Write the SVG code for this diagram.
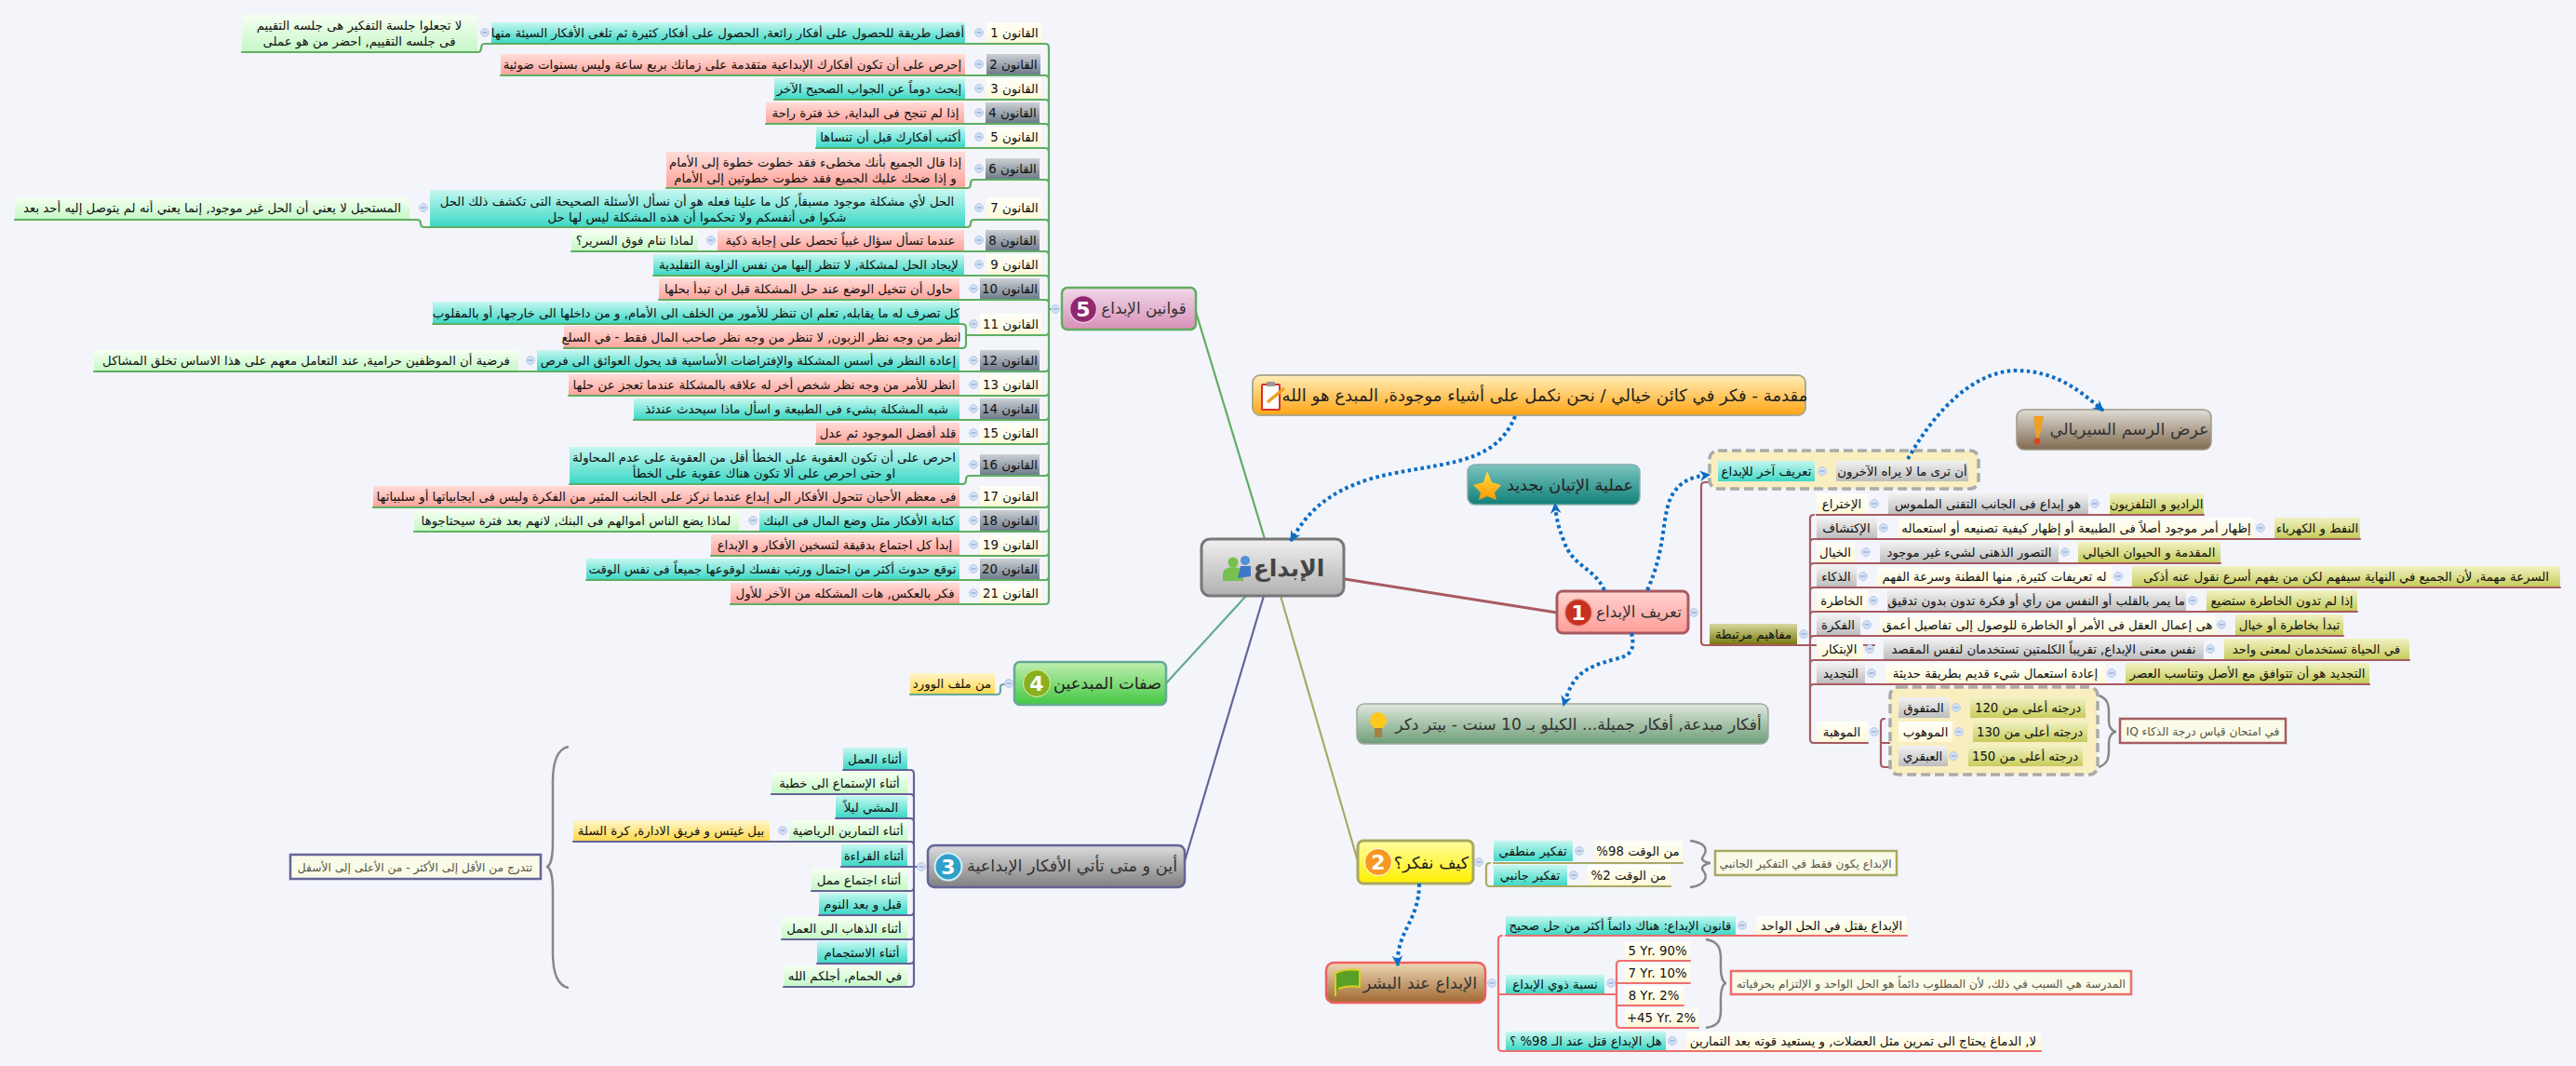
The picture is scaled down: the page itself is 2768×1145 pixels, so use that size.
<svg xmlns="http://www.w3.org/2000/svg" width="2768" height="1145" viewBox="0 0 2768 1145">
<style>
text{font-family:"DejaVu Sans","Noto Sans",sans-serif;font-size:13.3px;fill:#111;direction:rtl;text-anchor:middle}
.ltr{direction:ltr}
.t2{font-size:17.7px;fill:#333}
.t3{font-size:17.7px;fill:#222}
.nt{font-size:12.2px;fill:#554}
.num{font-size:22px;font-weight:bold;fill:#fff;direction:ltr}
.cy{fill:url(#gCy)}.rd{fill:url(#gRd)}.cr{fill:url(#gCr)}.bl{fill:url(#gBl)}.gn{fill:url(#gGn)}.ol{fill:url(#gOl)}.gy{fill:url(#gGy)}.ye{fill:url(#gYe)}
.ln{fill:none;stroke-width:2.2;stroke-linecap:round}
.g{stroke:#5fae62}.m{stroke:#a85a62}.o{stroke:#a9a965}.p{stroke:#646498}.r{stroke:#ee6e6e}.tl{stroke:#66a898}
.dot{fill:none;stroke:#0b6cc4;stroke-width:4;stroke-dasharray:3.5 3.5}
.br{fill:none;stroke:#888;stroke-width:2.5}
.dash{fill:#f8eec0;stroke:#aaa;stroke-width:3.5;stroke-dasharray:10 5}
.note{fill:#fafae8;stroke-width:2.5}
</style>
<defs>
<linearGradient id="gCy" x2="0" y2="1"><stop offset="0" stop-color="#c6f7f0"/><stop offset="1" stop-color="#3ed8c6"/></linearGradient>
<linearGradient id="gRd" x2="0" y2="1"><stop offset="0" stop-color="#ffdcd8"/><stop offset="1" stop-color="#ffa49c"/></linearGradient>
<linearGradient id="gCr" x2="0" y2="1"><stop offset="0" stop-color="#fffffa"/><stop offset="1" stop-color="#fff8d8"/></linearGradient>
<linearGradient id="gBl" x2="0" y2="1"><stop offset="0" stop-color="#ccd0d4"/><stop offset="1" stop-color="#6e7c8a"/></linearGradient>
<linearGradient id="gGn" x2="0" y2="1"><stop offset="0" stop-color="#f6fff2"/><stop offset="1" stop-color="#c6f8c6"/></linearGradient>
<linearGradient id="gOl" x2="0" y2="1"><stop offset="0" stop-color="#f2f2c4"/><stop offset="1" stop-color="#c6cc5c"/></linearGradient>
<linearGradient id="gGy" x2="0" y2="1"><stop offset="0" stop-color="#f2f2f2"/><stop offset="1" stop-color="#bdbdbd"/></linearGradient>
<linearGradient id="gYe" x2="0" y2="1"><stop offset="0" stop-color="#fff6c8"/><stop offset="1" stop-color="#ffd850"/></linearGradient>
<linearGradient id="gDk" x2="0" y2="1"><stop offset="0" stop-color="#d8d8a0"/><stop offset="1" stop-color="#7a7a10"/></linearGradient>
<linearGradient id="nC" x2="0" y2="1"><stop offset="0" stop-color="#f0f0f0"/><stop offset="1" stop-color="#b0b0b0"/></linearGradient>
<linearGradient id="nO" x2="0" y2="1"><stop offset="0" stop-color="#ffeeb8"/><stop offset="1" stop-color="#ffa414"/></linearGradient>
<linearGradient id="nT" x2="0" y2="1"><stop offset="0" stop-color="#7cc4c0"/><stop offset="1" stop-color="#108078"/></linearGradient>
<linearGradient id="nP" x2="0" y2="1"><stop offset="0" stop-color="#ffd4d0"/><stop offset="1" stop-color="#ff9c98"/></linearGradient>
<linearGradient id="nB" x2="0" y2="1"><stop offset="0" stop-color="#e0dcd6"/><stop offset="1" stop-color="#806a50"/></linearGradient>
<linearGradient id="nG" x2="0" y2="1"><stop offset="0" stop-color="#e0e8dc"/><stop offset="1" stop-color="#6e9e78"/></linearGradient>
<linearGradient id="nY" x2="0" y2="1"><stop offset="0" stop-color="#ffffa0"/><stop offset="1" stop-color="#ffee00"/></linearGradient>
<linearGradient id="nH" x2="0" y2="1"><stop offset="0" stop-color="#eed8b8"/><stop offset="1" stop-color="#a06830"/></linearGradient>
<linearGradient id="nL" x2="0" y2="1"><stop offset="0" stop-color="#c0eeb0"/><stop offset="1" stop-color="#44c844"/></linearGradient>
<linearGradient id="nV" x2="0" y2="1"><stop offset="0" stop-color="#f0d8e8"/><stop offset="1" stop-color="#d890b8"/></linearGradient>
<linearGradient id="nD" x2="0" y2="1"><stop offset="0" stop-color="#dcdcdc"/><stop offset="1" stop-color="#808080"/></linearGradient>
<linearGradient id="star" x2="0" y2="1"><stop offset="0" stop-color="#ffe040"/><stop offset="1" stop-color="#ff9800"/></linearGradient>
<marker id="arr" viewBox="0 0 12 12" refX="10" refY="6" markerWidth="14" markerHeight="14" markerUnits="userSpaceOnUse" orient="auto"><path d="M1 1L11 6L1 11L4 6Z" fill="#0b6cc4"/></marker>
<g id="e"><circle r="4.4" fill="#d4e0f4" stroke="#b4c8e8"/><path d="M-2.4 0H2.4" stroke="#8098c8"/></g>
</defs>
<rect width="2768" height="1145" fill="#f3f5fa"/>

<g id="connectors">
<path class="ln m" style="stroke-width:3" d="M1445 622L1673 658"/>
<path class="ln g" d="M1285 335L1359 579"/>
<path class="ln tl" d="M1253 734L1339 640"/>
<path class="ln p" d="M1273 925L1358 640"/>
<path class="ln o" d="M1376 640L1459 925"/>

<path class="ln g" d="M528 47H1123Q1127 47 1127 51V645Q1127 649 1123 649H785M260 56H513Q517 56 517 52Q517 47 521 47H528M538 81H1123Q1127 81 1127 85M832 107H1123Q1127 107 1127 111M823 133H1123Q1127 133 1127 137M877 159H1123Q1127 159 1127 163M716 202H1039Q1043 202 1043 198V197Q1043 193 1047 193H1123Q1127 193 1127 197M16 236H448Q452 236 452 240Q452 244 456 244H1039Q1043 244 1043 240Q1043 236 1047 236H1123Q1127 236 1127 240M614 270H1123Q1127 270 1127 274M702 296H1123Q1127 296 1127 300M708 322H1123Q1127 322 1127 326M1127 332H1130M465 348H1034Q1038 348 1038 352V370Q1038 374 1034 374H606M1038 360H1123Q1127 360 1127 356M101 399H1123Q1127 399 1127 395M611 425H1123Q1127 425 1127 421M681 451H1123Q1127 451 1127 447M877 477H1123Q1127 477 1127 473M612 520H1034Q1038 520 1038 516V515Q1038 511 1042 511H1123Q1127 511 1127 507M401 545H1123Q1127 545 1127 541M445 571H1123Q1127 571 1127 567M764 597H1123Q1127 597 1127 593M630 623H1123Q1127 623 1127 619"/>

<path class="ln tl" d="M978 746H1071Q1075 746 1075 742V738Q1075 735 1079 735"/>

<path class="ln p" d="M906 827H978Q982 827 982 831V1056Q982 1060 978 1060H842M829 853H978Q982 853 982 857M898 879H978Q982 879 982 883M616 904H978Q982 904 982 908M904 931H986M872 957H978Q982 957 982 953M880 983H978Q982 983 982 979M840 1009H978Q982 1009 982 1005M878 1035H978Q982 1035 982 1031"/>

<path class="ln m" d="M1846 518H2115M1850 518H1832Q1828 518 1828 522V689Q1828 693 1832 693H2014M1837 693H1949"/>
<path class="ln m" d="M1952 553H2368M1949 553Q1945 553 1945 557V794Q1945 798 1949 798H2007M1952 579H1949Q1945 579 1945 583M1952 579H2536M1952 605H1949Q1945 605 1945 609M1952 605H2386M1952 631H1949Q1945 631 1945 635M1952 631H2751M1952 657H1949Q1945 657 1945 661M1952 657H2533M1952 683H1949Q1945 683 1945 687M1952 683H2518M1952 709H1949Q1945 709 1945 713M1952 709H2589M1952 735H1949Q1945 735 1945 739M1952 735H2546M2040 772H2241M2025 772Q2021 772 2021 776V820Q2021 824 2025 824H2238M2021 798H2243"/>

<path class="ln o" d="M1605 927H1808M1601 927Q1597 927 1597 931V948Q1597 952 1601 952H1795"/>
<path class="ln r" d="M1618 1005H2049M1614 1005Q1610 1005 1610 1009V1125Q1610 1129 1614 1129H2193M1610 1068H1724M1741 1032H1816M1741 1032Q1737 1032 1737 1036V1100Q1737 1104 1741 1104H1825M1737 1056H1816M1724 1068H1737M1737 1080H1809"/>

<path class="br" d="M2255 747C2264 750 2266 756 2266 765V775C2266 781 2270 786 2274 786C2270 786 2266 791 2266 797V806C2266 815 2264 821 2255 824"/>
<path class="br" d="M1816 903C1832 905 1836 912 1830 920C1826 925 1836 927 1838 927C1836 927 1826 930 1830 935C1836 942 1832 951 1816 953"/>
<path class="br" d="M1833 1009C1846 1011 1849 1018 1849 1030V1040C1849 1050 1852 1056 1855 1056C1852 1056 1849 1062 1849 1072V1085C1849 1097 1846 1102 1833 1104"/>
<path class="br" d="M611 802C600 804 594 815 594 840V905C594 922 591 931 587 931C591 931 594 940 594 957V1023C594 1048 600 1059 611 1061"/>
</g>

<g id="group-iq"><rect class="dash" x="2031" y="738" width="223" height="94" rx="9"/></g>
<g id="group-def2"><rect class="dash" x="1837" y="484" width="289" height="41" rx="9"/></g>

<g id="root"><rect x="1291" y="579" width="153" height="61" rx="9" fill="url(#nC)" stroke="#777" stroke-width="3"/><text x="1385" y="619" style="font-size:25px;font-weight:bold;fill:#444">الإبداع</text>
<circle cx="1325" cy="604" r="5.5" fill="#78c050"/><path d="M1314 624V616Q1314 610 1325 609Q1336 610 1336 616V624Z" fill="#78c050"/><circle cx="1338" cy="602" r="5" fill="#5090d8"/><path d="M1330 621L1333 608H1344V619Z" fill="#4078c8"/></g>

<g id="intro"><rect x="1346" y="403" width="594" height="43" rx="8" fill="url(#nO)" stroke="#b0a890" stroke-width="2"/><text x="1660" y="431" style="font-size:18.1px;fill:#222">مقدمة - فكر في كائن خيالي / نحن نكمل على أشياء موجودة, المبدع هو الله</text>
<rect x="1356" y="413" width="19" height="27" rx="1" fill="#fff" stroke="#d83030" stroke-width="2"/><rect x="1361" y="410" width="9" height="5" fill="#999"/><path d="M1362 432L1380 417" stroke="#f0a020" stroke-width="3.5"/></g>

<g id="n-new"><rect x="1577" y="499" width="185" height="43" rx="8" fill="url(#nT)" stroke="#8aa" stroke-width="1.5"/><text x="1687" y="527" class="t3">عملية الإتيان بجديد</text><polygon points="1598,506 1603,518 1613,521 1606,529 1608,537 1598,533 1589,537 1591,529 1583,521 1594,518" fill="url(#star)"/></g>

<g id="n-surreal"><rect x="2167" y="440" width="209" height="43" rx="8" fill="url(#nB)" stroke="#a09888" stroke-width="1.5"/><text x="2288" y="467" class="t2">عرض الرسم السيريالي</text><path d="M2185 447H2196L2191 470H2188Z" fill="#f0a020"/><circle cx="2189" cy="474" r="3.5" fill="#d84820"/></g>

<g id="n-def"><rect x="1673" y="635" width="141" height="45" rx="6" fill="url(#nP)" stroke="#a85a62" stroke-width="3"/><text x="1761" y="663" style="font-size:16.8px;fill:#333">تعريف الإبداع</text><circle cx="1696" cy="658" r="14.5" fill="#c83020" stroke="#e0a090" stroke-width="1.5"/><text x="1696" y="666" class="num">1</text></g>

<g id="n-ideas"><rect x="1458" y="756" width="442" height="43" rx="8" fill="url(#nG)" stroke="#a0a8a0" stroke-width="1.5"/><text x="1696" y="784" style="font-size:17.1px;fill:#333">أفكار مبدعة, أفكار جميلة... الكيلو بـ 10 سنت - بيتر دكر</text><circle cx="1481" cy="774" r="9" fill="#ffc820"/><rect x="1477" y="782" width="8" height="10" fill="#a88040"/></g>

<g id="n-think"><rect x="1459" y="903" width="124" height="46" rx="6" fill="url(#nY)" stroke="#aaa860" stroke-width="3"/><text x="1538" y="933" class="t3">كيف نفكر؟</text><circle cx="1481" cy="926" r="14.5" fill="#f89820" stroke="#fff" stroke-width="1"/><text x="1481" y="934" class="num">2</text></g>

<g id="n-human"><rect x="1425" y="1034" width="171" height="43" rx="8" fill="url(#nH)" stroke="#ee6060" stroke-width="2.5"/><text x="1526" y="1062" class="t2">الإبداع عند البشر</text><path d="M1435 1070V1045Q1447 1040 1461 1042V1060Q1448 1058 1438 1062" fill="#58a028" stroke="#d8d020" stroke-width="2"/></g>

<g id="n-traits"><rect x="1090" y="711" width="163" height="46" rx="6" fill="url(#nL)" stroke="#66a898" stroke-width="2.5"/><text x="1190" y="740" class="t3">صفات المبدعين</text><circle cx="1114" cy="734" r="14.5" fill="#88b020" stroke="#e8f0a0"/><text x="1114" y="742" class="num">4</text></g>

<g id="n-where"><rect x="997" y="908" width="276" height="45" rx="7" fill="url(#nD)" stroke="#646498" stroke-width="2.5"/><text x="1152" y="936" class="t3" style="fill:#333">أين و متى تأتي الأفكار الإبداعية</text><circle cx="1019" cy="931" r="14.5" fill="#30a0c8" stroke="#d0f0f8" stroke-width="2"/><text x="1019" y="939" class="num">3</text></g>

<g id="n-laws"><rect x="1141" y="309" width="144" height="45" rx="6" fill="url(#nV)" stroke="#5fae62" stroke-width="2.5"/><text x="1229" y="337" style="font-size:16.8px;fill:#333">قوانين الإبداع</text><circle cx="1164" cy="332" r="14.5" fill="#902870" stroke="#e8c0d8" stroke-width="1.5"/><text x="1164" y="340" class="num">5</text></g>

<g id="laws-children">
<g id="L1"><rect class="cr" x="1060" y="24" width="59" height="22"/><text x="1090" y="40">القانون 1</text></g>
<g id="L1a"><rect class="cy" x="528" y="24" width="509" height="22"/><text x="782" y="40">أفضل طريقة للحصول على أفكار رائعة, الحصول على أفكار كثيرة ثم تلغى الأفكار السيئة منها</text></g>
<g id="L1b"><rect class="gn" x="260" y="16" width="253" height="39"/><text x="386" y="32">لا تجعلوا جلسة التفكير هى جلسه التقييم</text><text x="386" y="49">فى جلسه التقييم, احضر من هو عملى</text></g>
<g id="L2"><rect class="bl" x="1060" y="58" width="58" height="22"/><text x="1089" y="74">القانون 2</text></g>
<g id="L2a"><rect class="rd" x="538" y="58" width="499" height="22"/><text x="787" y="74">إحرص على أن تكون أفكارك الإبداعية متقدمة على زمانك بربع ساعة وليس بسنوات ضوئية</text></g>
<g id="L3"><rect class="cr" x="1060" y="84" width="59" height="22"/><text x="1090" y="100">القانون 3</text></g>
<g id="L3a"><rect class="cy" x="832" y="84" width="205" height="22"/><text x="934" y="100">إبحث دوماً عن الجواب الصحيح الآخر</text></g>
<g id="L4"><rect class="bl" x="1059" y="110" width="58" height="22"/><text x="1088" y="126">القانون 4</text></g>
<g id="L4a"><rect class="rd" x="823" y="110" width="213" height="22"/><text x="930" y="126">إذا لم تنجح فى البداية, خذ فترة راحة</text></g>
<g id="L5"><rect class="cr" x="1060" y="136" width="59" height="22"/><text x="1090" y="152">القانون 5</text></g>
<g id="L5a"><rect class="cy" x="877" y="136" width="160" height="22"/><text x="957" y="152">أكتب أفكارك قبل أن تنساها</text></g>
<g id="L6"><rect class="bl" x="1059" y="170" width="58" height="22"/><text x="1088" y="186">القانون 6</text></g>
<g id="L6a"><rect class="rd" x="716" y="163" width="321" height="38"/><text x="876" y="179">إذا قال الجميع بأنك مخطىء فقد خطوت خطوة إلى الأمام</text><text x="876" y="196">و إذا ضحك عليك الجميع فقد خطوت خطوتين إلى الأمام</text></g>
<g id="L7"><rect class="cr" x="1060" y="212" width="59" height="22"/><text x="1090" y="228">القانون 7</text></g>
<g id="L7a"><rect class="cy" x="462" y="204" width="575" height="39"/><text x="749" y="221">الحل لأي مشكلة موجود مسبقاً, كل ما علينا فعله هو أن نسأل الأسئلة الصحيحة التى تكشف ذلك الحل</text><text x="749" y="238">شكوا فى أنفسكم ولا تحكموا أن هذه المشكلة ليس لها حل</text></g>
<g id="L7b"><rect class="gn" x="16" y="212" width="424" height="23"/><text x="228" y="228">المستحيل لا يعني أن الحل غير موجود, إنما يعني أنه لم يتوصل إليه أحد بعد</text></g>
<g id="L8"><rect class="bl" x="1059" y="247" width="58" height="22"/><text x="1088" y="263">القانون 8</text></g>
<g id="L8a"><rect class="rd" x="771" y="247" width="265" height="22"/><text x="903" y="263">عندما تسأل سؤال غبياً تحصل على إجابة ذكية</text></g>
<g id="L8b"><rect class="gn" x="614" y="247" width="136" height="22"/><text x="682" y="263">لماذا ننام فوق السرير؟</text></g>
<g id="L9"><rect class="cr" x="1060" y="273" width="59" height="22"/><text x="1090" y="289">القانون 9</text></g>
<g id="L9a"><rect class="cy" x="702" y="273" width="334" height="22"/><text x="869" y="289">لإيجاد الحل لمشكلة, لا تنظر إليها من نفس الزاوية التقليدية</text></g>
<g id="L10"><rect class="bl" x="1053" y="299" width="64" height="22"/><text x="1085" y="315">القانون 10</text></g>
<g id="L10a"><rect class="rd" x="708" y="299" width="323" height="22"/><text x="869" y="315">حاول أن تتخيل الوضع عند حل المشكلة قبل ان تبدأ بحلها</text></g>
<g id="L11"><rect class="cr" x="1053" y="337" width="66" height="22"/><text x="1086" y="353">القانون 11</text></g>
<g id="L11a"><rect class="cy" x="465" y="324" width="566" height="23"/><text x="748" y="341">كل تصرف له ما يقابله, تعلم ان تنظر للأمور من الخلف الى الأمام, و من داخلها الى خارجها, أو بالمقلوب</text></g>
<g id="L11b"><rect class="rd" x="606" y="350" width="425" height="23"/><text x="818" y="367">انظر من وجه نظر الزبون, لا تنظر من وجه نظر صاحب المال فقط - في السلع</text></g>
<g id="L12"><rect class="bl" x="1053" y="376" width="64" height="22"/><text x="1085" y="392">القانون 12</text></g>
<g id="L12a"><rect class="cy" x="577" y="376" width="454" height="22"/><text x="804" y="392">إعادة النظر فى أسس المشكلة والإفتراضات الأساسية قد يحول العوائق الى فرص</text></g>
<g id="L12b"><rect class="gn" x="101" y="376" width="456" height="22"/><text x="329" y="392">فرضية أن الموظفين حرامية, عند التعامل معهم على هذا الاساس تخلق المشاكل</text></g>
<g id="L13"><rect class="cr" x="1053" y="402" width="66" height="22"/><text x="1086" y="418">القانون 13</text></g>
<g id="L13a"><rect class="rd" x="611" y="402" width="420" height="22"/><text x="821" y="418">انظر للأمر من وجه نظر شخص أخر له علاقه بالمشكلة عندما تعجز عن حلها</text></g>
<g id="L14"><rect class="bl" x="1053" y="428" width="64" height="22"/><text x="1085" y="444">القانون 14</text></g>
<g id="L14a"><rect class="cy" x="681" y="428" width="350" height="22"/><text x="856" y="444">شبه المشكلة بشيء فى الطبيعة و اسأل ماذا سيحدث عندئذ</text></g>
<g id="L15"><rect class="cr" x="1053" y="454" width="66" height="22"/><text x="1086" y="470">القانون 15</text></g>
<g id="L15a"><rect class="rd" x="877" y="454" width="154" height="22"/><text x="954" y="470">قلد أفضل الموجود ثم عدل</text></g>
<g id="L16"><rect class="bl" x="1053" y="488" width="64" height="22"/><text x="1085" y="504">القانون 16</text></g>
<g id="L16a"><rect class="cy" x="612" y="480" width="419" height="39"/><text x="821" y="496">احرص على أن تكون العقوبة على الخطأ أقل من العقوبة على عدم المحاولة</text><text x="821" y="513">او حتى احرص على ألا تكون هناك عقوبة على الخطأ</text></g>
<g id="L17"><rect class="cr" x="1053" y="522" width="66" height="22"/><text x="1086" y="538">القانون 17</text></g>
<g id="L17a"><rect class="rd" x="401" y="522" width="630" height="22"/><text x="716" y="538">فى معظم الأحيان تتحول الأفكار الى إبداع عندما نركز على الجانب المثير من الفكرة وليس فى ايجابياتها أو سلبياتها</text></g>
<g id="L18"><rect class="bl" x="1053" y="548" width="64" height="22"/><text x="1085" y="564">القانون 18</text></g>
<g id="L18a"><rect class="cy" x="816" y="548" width="215" height="22"/><text x="923" y="564">كتابة الأفكار مثل وضع المال فى البنك</text></g>
<g id="L18b"><rect class="gn" x="445" y="548" width="349" height="22"/><text x="619" y="564">لماذا يضع الناس أموالهم فى البنك, لانهم بعد فترة سيحتاجوها</text></g>
<g id="L19"><rect class="cr" x="1053" y="574" width="66" height="22"/><text x="1086" y="590">القانون 19</text></g>
<g id="L19a"><rect class="rd" x="764" y="574" width="267" height="22"/><text x="897" y="590">إبدأ كل اجتماع بدقيقة لتسخين الأفكار و الإبداع</text></g>
<g id="L20"><rect class="bl" x="1053" y="600" width="64" height="22"/><text x="1085" y="616">القانون 20</text></g>
<g id="L20a"><rect class="cy" x="630" y="600" width="401" height="22"/><text x="830" y="616">توقع حدوث أكثر من احتمال ورتب نفسك لوقوعها جميعاً فى نفس الوقت</text></g>
<g id="L21"><rect class="cr" x="1053" y="626" width="66" height="22"/><text x="1086" y="642">القانون 21</text></g>
<g id="L21a"><rect class="rd" x="785" y="626" width="246" height="22"/><text x="908" y="642">فكر بالعكس, هات المشكله من الآخر للأول</text></g>
</g>

<g id="where-children">
<g id="W0"><rect class="ye" x="978" y="723" width="91" height="22"/><text x="1023" y="739">من ملف الوورد</text></g>
<g id="W1"><rect class="cy" x="906" y="803" width="69" height="23"/><text x="940" y="820">أثناء العمل</text></g>
<g id="W2"><rect class="gn" x="829" y="829" width="146" height="23"/><text x="902" y="846">أثناء الإستماع الى خطبة</text></g>
<g id="W3"><rect class="cy" x="898" y="855" width="77" height="23"/><text x="936" y="872">المشي ليلاً</text></g>
<g id="W4"><rect class="gn" x="848" y="881" width="127" height="22"/><text x="911" y="897">أثناء التمارين الرياضية</text></g>
<g id="W4a"><rect class="ye" x="616" y="881" width="211" height="22"/><text x="721" y="897">بيل غيتس و فريق الادارة, كرة السلة</text></g>
<g id="W5"><rect class="cy" x="904" y="907" width="71" height="23"/><text x="939" y="924">أثناء القراءة</text></g>
<g id="W6"><rect class="gn" x="872" y="933" width="103" height="23"/><text x="923" y="950">أثناء اجتماع ممل</text></g>
<g id="W7"><rect class="cy" x="880" y="959" width="95" height="23"/><text x="927" y="976">قبل و بعد النوم</text></g>
<g id="W8"><rect class="gn" x="840" y="985" width="135" height="23"/><text x="907" y="1002">أثناء الذهاب الى العمل</text></g>
<g id="W9"><rect class="cy" x="878" y="1011" width="97" height="23"/><text x="926" y="1028">أثناء الاستجمام</text></g>
<g id="W10"><rect class="gn" x="842" y="1037" width="133" height="22"/><text x="908" y="1053">في الحمام, أجلكم الله</text></g>
<g id="W-note"><rect class="note p" x="312" y="918" width="269" height="26"/><text x="446" y="936" class="nt">تتدرج من الأقل إلى الأكثر - من الأعلى إلى الأسفل</text></g>
</g>

<g id="def-children">
<g id="D0"><rect class="cy" x="1846" y="495" width="104" height="22"/><text x="1898" y="511">تعريف آخر للإبداع</text></g>
<g id="D0a"><rect class="gy" x="1973" y="495" width="142" height="22"/><text x="2044" y="511">أن ترى ما لا يراه الآخرون</text></g>
<g id="D1"><rect fill="url(#gDk)" x="1837" y="670" width="94" height="22"/><text x="1884" y="686">مفاهيم مرتبطة</text></g>

<g id="C1"><rect class="cr" x="1952" y="530" width="55" height="22"/><text x="1979" y="546">الإختراع</text></g>
<g id="C1a"><rect class="gy" x="2029" y="530" width="215" height="22"/><text x="2136" y="546">هو إبداع فى الجانب التقنى الملموس</text></g>
<g id="C1b"><rect class="ol" x="2267" y="530" width="101" height="22"/><text x="2317" y="546">الراديو و التلفزيون</text></g>
<g id="C2"><rect class="gy" x="1952" y="556" width="65" height="22"/><text x="1984" y="572">الإكتشاف</text></g>
<g id="C2a"><rect class="cr" x="2040" y="556" width="382" height="22"/><text x="2231" y="572">إظهار أمر موجود أصلاً فى الطبيعة أو إظهار كيفية تصنيعه أو استعماله</text></g>
<g id="C2b"><rect class="ol" x="2444" y="556" width="92" height="22"/><text x="2490" y="572">النفط و الكهرباء</text></g>
<g id="C3"><rect class="cr" x="1952" y="582" width="41" height="22"/><text x="1972" y="598">الخيال</text></g>
<g id="C3a"><rect class="gy" x="2020" y="582" width="192" height="22"/><text x="2116" y="598">التصور الذهنى لشيء غير موجود</text></g>
<g id="C3b"><rect class="ol" x="2233" y="582" width="153" height="22"/><text x="2309" y="598">المقدمة و الحيوان الخيالي</text></g>
<g id="C4"><rect class="gy" x="1952" y="608" width="43" height="22"/><text x="1973" y="624">الذكاء</text></g>
<g id="C4a"><rect class="cr" x="2017" y="608" width="252" height="22"/><text x="2143" y="624">له تعريفات كثيرة, منها الفطنة وسرعة الفهم</text></g>
<g id="C4b"><rect class="ol" x="2291" y="608" width="460" height="22"/><text x="2521" y="624">السرعة مهمة, لأن الجميع في النهاية سيفهم لكن من يفهم أسرع نقول عنه أذكى</text></g>
<g id="C5"><rect class="cr" x="1952" y="634" width="55" height="22"/><text x="1979" y="650">الخاطرة</text></g>
<g id="C5a"><rect class="gy" x="2028" y="634" width="321" height="22"/><text x="2188" y="650">ما يمر بالقلب أو النفس من رأي أو فكرة تدون بدون تدقيق</text></g>
<g id="C5b"><rect class="ol" x="2371" y="634" width="162" height="22"/><text x="2452" y="650">إذا لم تدون الخاطرة ستضيع</text></g>
<g id="C6"><rect class="gy" x="1952" y="660" width="47" height="22"/><text x="1975" y="676">الفكرة</text></g>
<g id="C6a"><rect class="cr" x="2020" y="660" width="360" height="22"/><text x="2200" y="676">هى إعمال العقل فى الأمر أو الخاطرة للوصول إلى تفاصيل أعمق</text></g>
<g id="C6b"><rect class="ol" x="2402" y="660" width="116" height="22"/><text x="2460" y="676">تبدأ بخاطرة أو خيال</text></g>
<g id="C7"><rect class="cr" x="1952" y="686" width="50" height="22"/><text x="1977" y="702">الإبتكار</text></g>
<g id="C7a"><rect class="gy" x="2024" y="686" width="344" height="22"/><text x="2196" y="702">نفس معنى الإبداع, تقريباً الكلمتين تستخدمان لنفس المقصد</text></g>
<g id="C7b"><rect class="ol" x="2390" y="686" width="199" height="22"/><text x="2489" y="702">في الحياة تستخدمان لمعنى واحد</text></g>
<g id="C8"><rect class="gy" x="1952" y="712" width="52" height="22"/><text x="1978" y="728">التجديد</text></g>
<g id="C8a"><rect class="cr" x="2026" y="712" width="236" height="22"/><text x="2144" y="728">إعادة استعمال شيء قديم بطريقة حديثة</text></g>
<g id="C8b"><rect class="ol" x="2284" y="712" width="262" height="22"/><text x="2415" y="728">التجديد هو أن تتوافق مع الأصل وتناسب العصر</text></g>
<g id="C9"><rect class="cr" x="1952" y="775" width="55" height="22"/><text x="1979" y="791">الموهبة</text></g>
<g id="T1"><rect class="gy" x="2040" y="749" width="55" height="22"/><text x="2067" y="765">المتفوق</text></g>
<g id="T1a"><rect class="ol" x="2117" y="749" width="124" height="22"/><text x="2179" y="765">درجته أعلى من 120</text></g>
<g id="T2"><rect class="cr" x="2040" y="775" width="58" height="22"/><text x="2069" y="791">الموهوب</text></g>
<g id="T2a"><rect class="ol" x="2120" y="775" width="123" height="22"/><text x="2181" y="791">درجته أعلى من 130</text></g>
<g id="T3"><rect class="gy" x="2040" y="801" width="53" height="22"/><text x="2066" y="817">العبقري</text></g>
<g id="T3a"><rect class="ol" x="2115" y="801" width="123" height="22"/><text x="2176" y="817">درجته أعلى من 150</text></g>
<g id="T-note"><rect class="note m" x="2278" y="772" width="178" height="26"/><text x="2367" y="790" class="nt">في امتحان قياس درجة الذكاء IQ</text></g>
</g>

<g id="think-children">
<g id="K1"><rect class="cy" x="1605" y="903" width="85" height="22"/><text x="1647" y="919">تفكير منطقي</text></g>
<g id="K1a"><rect class="cr" x="1713" y="903" width="95" height="22"/><text x="1760" y="919">من الوقت 98%</text></g>
<g id="K2"><rect class="cy" x="1605" y="929" width="79" height="22"/><text x="1644" y="945">تفكير جانبي</text></g>
<g id="K2a"><rect class="cr" x="1706" y="929" width="89" height="22"/><text x="1750" y="945">من الوقت 2%</text></g>
<g id="K-note"><rect class="note o" x="1843" y="914" width="195" height="26"/><text x="1940" y="932" class="nt">الإبداع يكون فقط في التفكير الجانبي</text></g>
</g>

<g id="human-children">
<g id="H1"><rect class="cy" x="1618" y="984" width="247" height="20"/><text x="1741" y="999">قانون الإبداع: هناك دائماً أكثر من حل صحيح</text></g>
<g id="H1a"><rect class="cr" x="1887" y="984" width="162" height="20"/><text x="1968" y="999">الإبداع يقتل في الحل الواحد</text></g>
<g id="H2"><rect class="cy" x="1618" y="1047" width="106" height="20"/><text x="1671" y="1062">نسبة ذوي الإبداع</text></g>
<g id="Y1"><rect class="cr" x="1746" y="1011" width="70" height="20"/><text x="1781" y="1026" class="ltr">5 Yr. 90%</text></g>
<g id="Y2"><rect class="cr" x="1746" y="1035" width="70" height="20"/><text x="1781" y="1050" class="ltr">7 Yr. 10%</text></g>
<g id="Y3"><rect class="cr" x="1746" y="1059" width="63" height="20"/><text x="1777" y="1074" class="ltr">8 Yr. 2%</text></g>
<g id="Y4"><rect class="cr" x="1746" y="1083" width="79" height="20"/><text x="1785" y="1098" class="ltr">+45 Yr. 2%</text></g>
<g id="H3"><rect class="cy" x="1618" y="1108" width="172" height="20"/><text x="1704" y="1123">هل الإبداع قتل عند الـ 98% ؟</text></g>
<g id="H3a"><rect class="cr" x="1812" y="1108" width="381" height="20"/><text x="2002" y="1123">لا, الدماغ يحتاج الى تمرين مثل العضلات, و يستعيد قوته بعد التمارين</text></g>
<g id="H-note"><rect class="note r" x="1860" y="1043" width="430" height="25"/><text x="2075" y="1061" class="nt">المدرسة هي السبب في ذلك, لأن المطلوب دائماً هو الحل الواحد و الإلتزام بحرفياته</text></g>
</g>

<g id="links">
<path class="dot" marker-end="url(#arr)" d="M1628 447C1605 505 1540 495 1470 515C1425 530 1405 550 1387 581"/>
<path class="dot" marker-end="url(#arr)" d="M1724 634C1712 608 1690 610 1680 580C1674 565 1672 555 1671 541"/>
<path class="dot" marker-end="url(#arr)" d="M1770 634C1790 590 1785 560 1795 535C1805 515 1820 512 1837 510"/>
<path class="dot" marker-end="url(#arr)" d="M2050 493C2080 440 2120 400 2165 398C2210 398 2235 420 2260 441"/>
<path class="dot" marker-end="url(#arr)" d="M1753 680C1758 700 1750 705 1735 708C1700 718 1690 725 1680 758"/>
<path class="dot" marker-end="url(#arr)" d="M1525 949C1525 990 1500 1000 1502 1037"/>
</g>

<g id="expanders">
<use href="#e" x="1052" y="35"/><use href="#e" x="521" y="35"/><use href="#e" x="1052" y="69"/><use href="#e" x="1052" y="95"/><use href="#e" x="1052" y="121"/><use href="#e" x="1052" y="147"/><use href="#e" x="1052" y="181"/><use href="#e" x="1052" y="223"/><use href="#e" x="455" y="223"/><use href="#e" x="1052" y="258"/><use href="#e" x="764" y="258"/><use href="#e" x="1052" y="284"/><use href="#e" x="1046" y="310"/><use href="#e" x="1046" y="348"/><use href="#e" x="1046" y="387"/><use href="#e" x="570" y="387"/><use href="#e" x="1046" y="413"/><use href="#e" x="1046" y="439"/><use href="#e" x="1046" y="465"/><use href="#e" x="1046" y="499"/><use href="#e" x="1046" y="533"/><use href="#e" x="1046" y="559"/><use href="#e" x="809" y="559"/><use href="#e" x="1046" y="585"/><use href="#e" x="1046" y="611"/><use href="#e" x="1046" y="637"/><use href="#e" x="1134" y="332"/>
<use href="#e" x="1084" y="734"/><use href="#e" x="990" y="931"/><use href="#e" x="841" y="892"/>
<use href="#e" x="1820" y="658"/><use href="#e" x="1958" y="506"/><use href="#e" x="1938" y="681"/>
<use href="#e" x="2014" y="541"/><use href="#e" x="2251" y="541"/><use href="#e" x="2024" y="567"/><use href="#e" x="2429" y="567"/><use href="#e" x="2005" y="593"/><use href="#e" x="2219" y="593"/><use href="#e" x="2002" y="619"/><use href="#e" x="2276" y="619"/><use href="#e" x="2013" y="645"/><use href="#e" x="2356" y="645"/><use href="#e" x="2006" y="671"/><use href="#e" x="2387" y="671"/><use href="#e" x="2009" y="697"/><use href="#e" x="2375" y="697"/><use href="#e" x="2011" y="723"/><use href="#e" x="2269" y="723"/><use href="#e" x="2014" y="786"/><use href="#e" x="2102" y="760"/><use href="#e" x="2105" y="786"/><use href="#e" x="2099" y="812"/>
<use href="#e" x="1589" y="926"/><use href="#e" x="1697" y="914"/><use href="#e" x="1691" y="940"/><use href="#e" x="1603" y="1056"/><use href="#e" x="1872" y="994"/><use href="#e" x="1731" y="1056"/><use href="#e" x="1797" y="1118"/>
</g>
</svg>
